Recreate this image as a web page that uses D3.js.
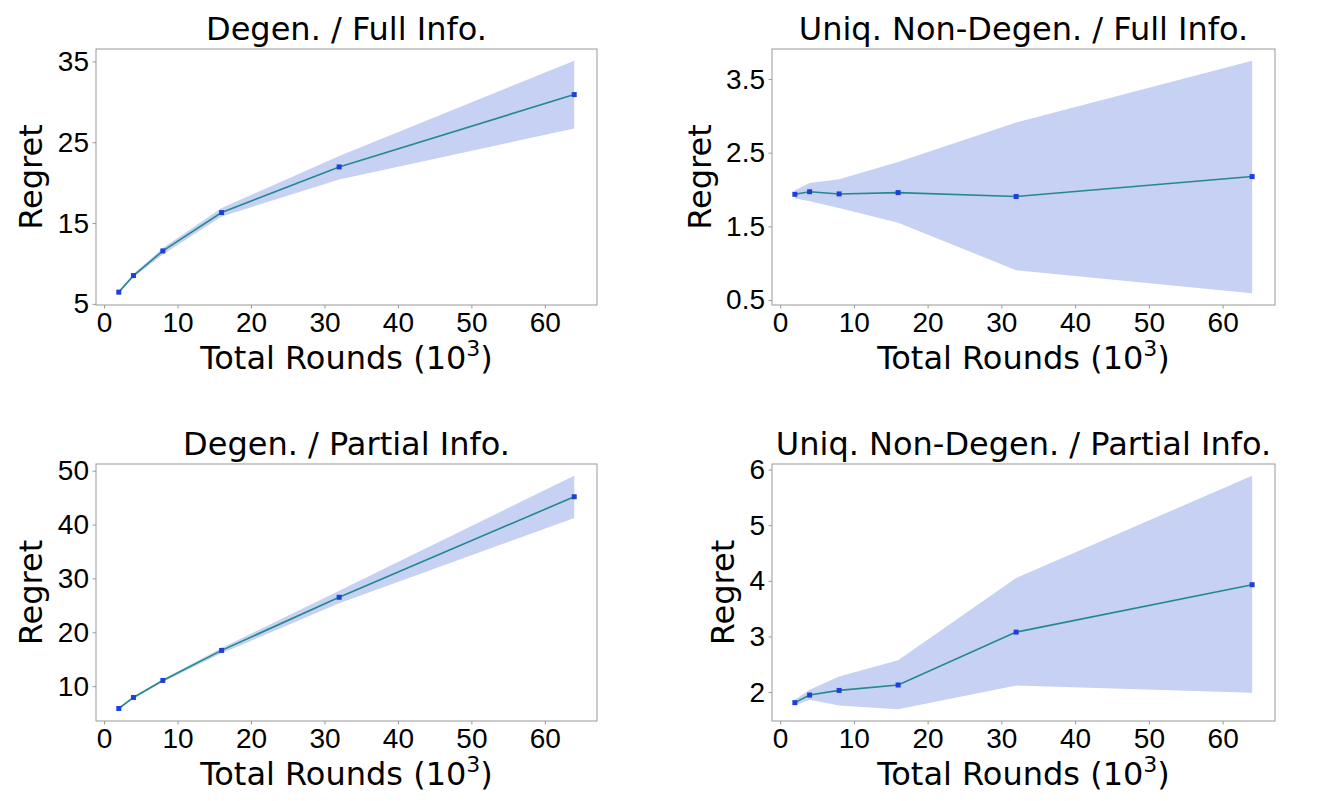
<!DOCTYPE html>
<html>
<head>
  <script src="https://d3js.org/d3.v7.min.js"></script>
  <style>
    body { margin: 0; background: white; }
    svg { display: block; font-family: "DejaVu Sans", sans-serif; }
    .tick text { font-size: 28px; fill: #000; }
    .tick line { stroke: #999; }
  </style>
</head>
<body>
  <svg id="chart" width="1343" height="801"></svg>
  <script>
    // ---- data -----------------------------------------------------------
    const rounds = [2, 4, 8, 16, 32, 64];
    const xTicks = [0, 10, 20, 30, 40, 50, 60];

    const titles = [
      "Degen. / Full Info.",
      "Uniq. Non-Degen. / Full Info.",
      "Degen. / Partial Info.",
      "Uniq. Non-Degen. / Partial Info."
    ];

    const degenFullMean = [6.45, 8.5, 11.55, 16.3, 21.95, 30.9];
    const degenFullLow = [6.3, 8.3, 11.1, 15.8, 20.4, 26.7];
    const degenFullHigh = [6.6, 8.7, 11.9, 16.85, 23.3, 35.1];
    const degenFullTicks = [5, 15, 25, 35];

    const uniqFullMean = [1.935, 1.97, 1.94, 1.958, 1.905, 2.176];
    const uniqFullLow = [1.88, 1.84, 1.75, 1.55, 0.905, 0.59];
    const uniqFullHigh = [1.99, 2.09, 2.14, 2.375, 2.91, 3.75];
    const uniqFullTicks = [0.5, 1.5, 2.5, 3.5];

    const degenPartMean = [5.85, 7.9, 11.06, 16.64, 26.5, 45.16];
    const degenPartLow = [5.7, 7.7, 10.8, 16.1, 25.4, 41.2];
    const degenPartHigh = [6.0, 8.1, 11.3, 17.1, 27.7, 49.07];
    const degenPartTicks = [10, 20, 30, 40, 50];

    const uniqPartMean = [1.81, 1.946, 2.03, 2.127, 3.078, 3.93];
    const uniqPartLow = [1.765, 1.86, 1.76, 1.69, 2.12, 1.99];
    const uniqPartHigh = [1.86, 2.04, 2.28, 2.57, 4.05, 5.89];
    const uniqPartTicks = [2, 3, 4, 5, 6];

    // ---- layout ----------------------------------------------------------
    const panels = [
      { title: titles[0], mean: degenFullMean, low: degenFullLow, high: degenFullHigh, ticks: degenFullTicks, box: [96, 597, 49, 305] },
      { title: titles[1], mean: uniqFullMean, low: uniqFullLow, high: uniqFullHigh, ticks: uniqFullTicks, box: [772, 1275, 49, 305] },
      { title: titles[2], mean: degenPartMean, low: degenPartLow, high: degenPartHigh, ticks: degenPartTicks, box: [96, 597, 464, 721] },
      { title: titles[3], mean: uniqPartMean, low: uniqPartLow, high: uniqPartHigh, ticks: uniqPartTicks, box: [772, 1275, 464, 721] }
    ];

    const lineColor = "#24898c";
    const markerColor = "#1f3fdc";
    const bandColor = "#c6d1f3";

    const svg = d3.select("#chart");

    // matplotlib-like autoscale: 5% margin on each side
    function padded(lo, hi) {
      const m = (hi - lo) * 0.05;
      return [lo - m, hi + m];
    }

    panels.forEach(p => {
      const [x0, x1, y0, y1] = p.box;
      const g = svg.append("g");

      const x = d3.scaleLinear()
        .domain(padded(d3.min(rounds), d3.max(rounds)))
        .range([x0, x1]);
      const y = d3.scaleLinear()
        .domain(padded(d3.min(p.low), d3.max(p.high)))
        .range([y1, y0]);

      const rows = rounds.map((r, i) => ({ r, m: p.mean[i], lo: p.low[i], hi: p.high[i] }));

      // band
      g.append("path")
        .datum(rows)
        .attr("fill", bandColor)
        .attr("d", d3.area()
          .x(d => x(d.r))
          .y0(d => y(d.lo))
          .y1(d => y(d.hi)));

      // mean line
      g.append("path")
        .datum(rows)
        .attr("fill", "none")
        .attr("stroke", lineColor)
        .attr("stroke-width", 1.6)
        .attr("d", d3.line().x(d => x(d.r)).y(d => y(d.m)));

      // square markers
      g.selectAll("rect.pt")
        .data(rows)
        .join("rect")
        .attr("class", "pt")
        .attr("x", d => x(d.r) - 2.5)
        .attr("y", d => y(d.m) - 2.5)
        .attr("width", 5)
        .attr("height", 5)
        .attr("fill", markerColor);

      // frame
      g.append("rect")
        .attr("x", x0).attr("y", y0)
        .attr("width", x1 - x0).attr("height", y1 - y0)
        .attr("fill", "none")
        .attr("stroke", "#999")
        .attr("stroke-width", 1);

      // axes
      const xAxis = g.append("g")
        .attr("transform", `translate(0,${y1})`)
        .call(d3.axisBottom(x).tickValues(xTicks).tickSize(3.5).tickPadding(3.5));
      xAxis.select(".domain").remove();

      const yAxis = g.append("g")
        .attr("transform", `translate(${x0},0)`)
        .call(d3.axisLeft(y).tickValues(p.ticks).tickFormat(d3.format("")).tickSize(3.5).tickPadding(3.5));
      yAxis.select(".domain").remove();

      // title
      g.append("text")
        .attr("x", (x0 + x1) / 2)
        .attr("y", y0 - 9)
        .attr("text-anchor", "middle")
        .attr("font-size", 32)
        .attr("fill", "#000")
        .text(p.title);

      // x label with superscript
      const xl = g.append("text")
        .attr("x", (x0 + x1) / 2)
        .attr("y", y1 + 64)
        .attr("text-anchor", "middle")
        .attr("font-size", 32)
        .attr("fill", "#000");
      xl.append("tspan").text("Total Rounds (10");
      xl.append("tspan").attr("dy", -13).attr("font-size", 22).text("3");
      xl.append("tspan").attr("dy", 13).text(")");

      // y label placed left of the tick labels (bbox is in the axis group's own coords)
      const tb = yAxis.node().getBBox();
      const lx = x0 + tb.x - 8 - 32 * 0.236;
      g.append("text")
        .attr("transform", `translate(${lx},${(y0 + y1) / 2}) rotate(-90)`)
        .attr("text-anchor", "middle")
        .attr("font-size", 32)
        .attr("fill", "#000")
        .text("Regret");
    });
  </script>
</body>
</html>
